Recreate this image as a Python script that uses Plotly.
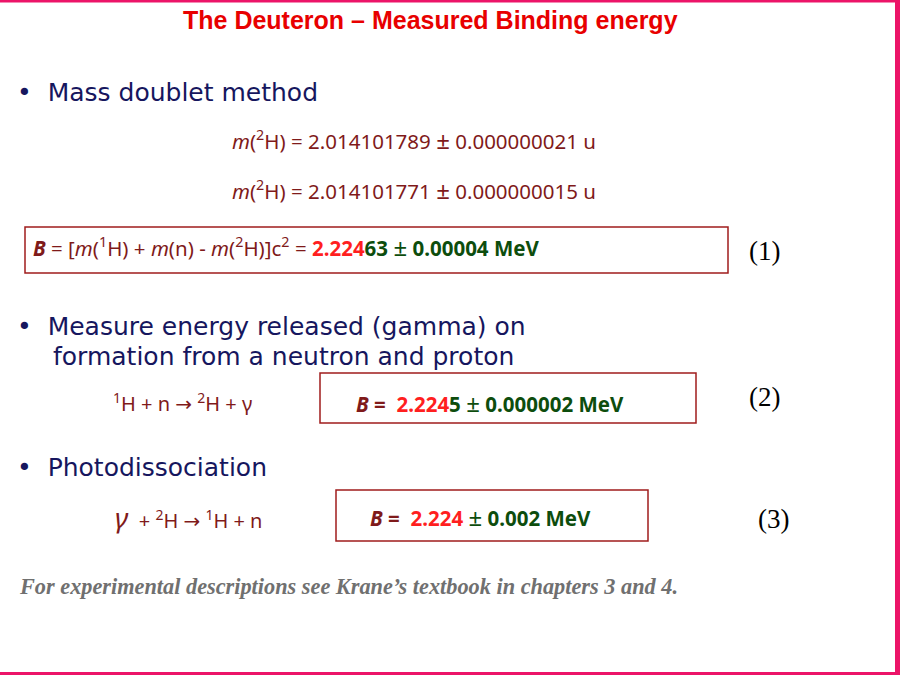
import plotly.graph_objects as go

# Measured values shown on the slide
mass_values = [2.014101789, 2.014101771]       # m(2H) in u
mass_errors = [0.000000021, 0.000000015]       # uncertainty in u
binding_values = ["2.22463", "2.2245", "2.224"]  # B in MeV
binding_errors = ["0.00004", "0.000002", "0.002"]
equation_labels = ["(1)", "(2)", "(3)"]

DARK_RED = "#7f1a1a"
RED = "#ff1f1f"
GREEN = "#0d4d0d"
NAVY = "#16165e"
BOX = "#a01c1c"
PINK = "#ec1468"
BODY_FONT = "Noto Sans"
BULLET_FONT = "DejaVu Sans"
PM = "<span style='font-size:24px'>±</span>"
ARROW = "<span style='font-family:DejaVu Sans'>→</span>"


def binding_text(value, error):
    # first four digits in red, the rest in green
    head, tail = value[:5], value[5:]
    s = f"<span style='color:{RED}'><b>{head}</b></span>"
    if tail:
        s += f"<span style='color:{GREEN}'><b>{tail}</b></span>"
    s += f"<span style='color:{GREEN}'> {PM} <b>{error} MeV</b></span>"
    return s


fig = go.Figure()
fig.add_trace(go.Scatter(x=[0, 900], y=[0, 675], mode="markers",
                         marker=dict(opacity=0), hoverinfo="skip"))

ann = []


def add(x, y, text, size, color, family=BODY_FONT, xanchor="left"):
    ann.append(dict(x=x, y=y, text=text, showarrow=False, xanchor=xanchor,
                    yanchor="middle", font=dict(size=size, color=color, family=family)))


# title
add(430, 20, "<b>The Deuteron – Measured Binding energy</b>", 25, "#e80000",
    family="Liberation Sans", xanchor="center")

# bullets
add(15, 92, "•  Mass doublet method", 25, NAVY, family=BULLET_FONT)
add(15, 326, "•  Measure energy released (gamma) on", 25, NAVY, family=BULLET_FONT)
add(51, 356, "formation from a neutron and proton", 25, NAVY, family=BULLET_FONT)
add(15, 467, "•  Photodissociation", 25, NAVY, family=BULLET_FONT)

# mass doublet lines
for y, m, e in zip([139, 189], mass_values, mass_errors):
    add(414, y, f"<i>m</i>(<sup>2</sup>H) = {m:.9f} {PM} {e:.9f} u", 20.5, DARK_RED,
        xanchor="center")

# boxed results
boxes = [(25, 227, 728, 273), (320, 373, 696, 423), (336, 490, 648, 541)]
for x0, y0, x1, y1 in boxes:
    fig.add_shape(type="rect", x0=x0, y0=y0, x1=x1, y1=y1,
                  line=dict(color=BOX, width=1.5))

add(31, 246, "<b><i>B</i></b> = [<i>m</i>(<sup>1</sup>H) + <i>m</i>(n) - <i>m</i>(<sup>2</sup>H)]c<sup>2</sup> = "
    + binding_text(binding_values[0], binding_errors[0]), 20.5, DARK_RED)
add(354, 402, "<b><i>B</i> =  </b>" + binding_text(binding_values[1], binding_errors[1]), 20.5, DARK_RED)
add(368, 516, "<b><i>B</i> =  </b>" + binding_text(binding_values[2], binding_errors[2]), 20.5, DARK_RED)

# reactions
add(111, 402, f"<sup>1</sup>H + n {ARROW} <sup>2</sup>H + γ", 20, DARK_RED)
add(113, 517, f"<span style='font-size:28px'><i>γ</i></span>  + <sup>2</sup>H {ARROW} <sup>1</sup>H + n",
    20, DARK_RED)

# equation numbers
for (x, y), lab in zip([(764, 251), (764, 397), (773, 519)], equation_labels):
    add(x, y, lab, 27, "black", family="Liberation Serif", xanchor="center")

# footnote
add(17, 586, "<b><i>For experimental descriptions see Krane’s textbook in chapters 3 and 4.</i></b>",
    22.3, "#707070", family="Liberation Serif")

# slide border (top, right, bottom)
fig.add_shape(type="line", x0=0, y0=1, x1=900, y1=1, line=dict(color=PINK, width=3))
fig.add_shape(type="line", x0=897.5, y0=0, x1=897.5, y1=675, line=dict(color=PINK, width=5))
fig.add_shape(type="line", x0=0, y0=673.5, x1=900, y1=673.5, line=dict(color=PINK, width=3))

fig.update_layout(
    width=900, height=675, autosize=False,
    margin=dict(l=0, r=0, t=0, b=0),
    paper_bgcolor="white", plot_bgcolor="white",
    showlegend=False, annotations=ann,
    xaxis=dict(range=[0, 900], visible=False, fixedrange=True),
    yaxis=dict(range=[675, 0], visible=False, fixedrange=True),
)

# drop the browser's default body margin so the slide fills the window
fig.write_html("out.html", config={"displayModeBar": False},
               post_script="document.body.style.margin='0';document.body.style.overflow='hidden';")
